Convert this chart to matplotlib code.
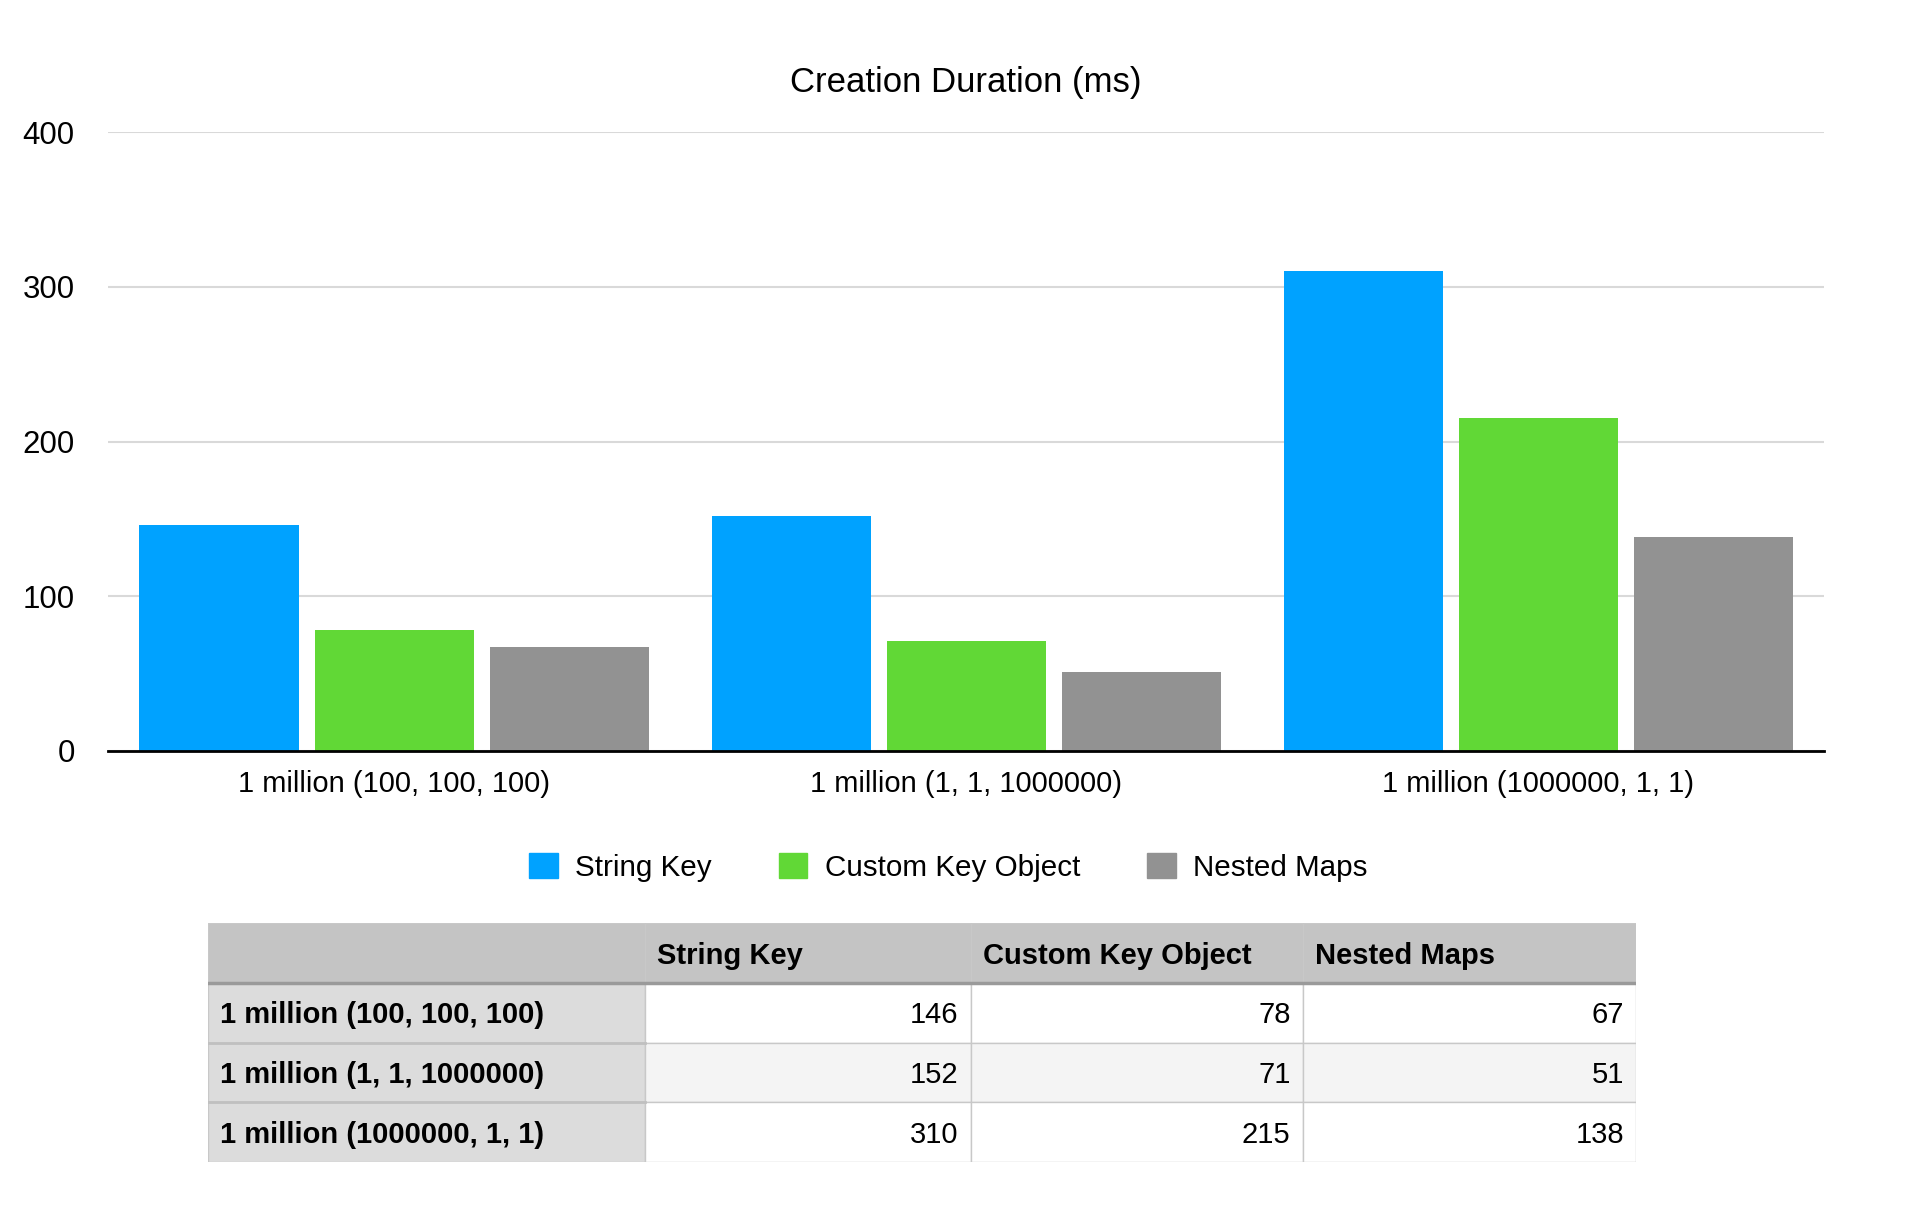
import numpy as np
import matplotlib
matplotlib.use("Agg")
import matplotlib.pyplot as plt
from matplotlib.patches import Rectangle, Patch

plt.rcParams['font.family'] = ['Liberation Sans', 'DejaVu Sans']

categories = ["1 million (100, 100, 100)", "1 million (1, 1, 1000000)", "1 million (1000000, 1, 1)"]
series = ["String Key", "Custom Key Object", "Nested Maps"]
string_key = [146, 152, 310]
custom_key = [78, 71, 215]
nested_maps = [67, 51, 138]
colors = ["#00A2FF", "#61D836", "#929292"]
yticks = [0, 100, 200, 300, 400]

values = [string_key, custom_key, nested_maps]

fig = plt.figure(figsize=(19.2, 12.11), dpi=100)
ax = fig.add_axes([0.05625, 0.3799, 0.894, 0.511])

x = np.arange(len(categories))
bw = 0.278
step = 0.306
for i, (name, vals) in enumerate(zip(series, values)):
    ax.bar(x + (i - 1) * step, vals, width=bw, color=colors[i], label=name, zorder=2)

ax.set_xlim(-0.5, 2.5)
ax.set_ylim(0, 400)
ax.set_yticks(yticks)
ax.set_yticklabels([str(t) for t in yticks], fontsize=22.5)
ax.set_xticks(x)
ax.set_xticklabels(categories, fontsize=21)
ax.tick_params(axis='both', length=0)
ax.tick_params(axis='x', pad=13.5)
ax.tick_params(axis='y', pad=24)
ax.grid(axis='y', color='#D9D9D9', linewidth=1.5, zorder=0)
for s in ['top', 'right', 'left']:
    ax.spines[s].set_visible(False)
ax.spines['bottom'].set_linewidth(2)
ax.spines['bottom'].set_zorder(3)
ax.set_title("Creation Duration (ms)", fontsize=25, pad=29)

handles = [Patch(color=c, label=s) for c, s in zip(colors, series)]
fig.legend(handles=handles, loc='center', bbox_to_anchor=(0.494, 0.284), ncol=3,
           frameon=False, fontsize=21.3, handlelength=0.97, handleheight=0.95,
           columnspacing=2.25, handletextpad=0.6)

# table
tax = fig.add_axes([0.1083, 0.0405, 0.744, 0.197])
col_w = [437, 326, 332, 334]
edges = np.concatenate([[0], np.cumsum(col_w)])
nrows = len(categories) + 1
tax.set_xlim(0, edges[-1])
tax.set_ylim(nrows, 0)
tax.axis('off')

for r in range(nrows):
    for c in range(len(col_w)):
        if r == 0:
            fc = '#C4C4C4'
        elif c == 0:
            fc = '#DCDCDC'
        elif r == 2:
            fc = '#F4F4F4'
        else:
            fc = '#FFFFFF'
        tax.add_patch(Rectangle((edges[c], r), col_w[c], 1, facecolor=fc,
                                edgecolor='#C8C8C8', linewidth=1))

tax.plot([0, edges[-1]], [1, 1], color='#9A9A9A', linewidth=2.5)
tax.plot([0, edges[1]], [2, 2], color='#C0C0C0', linewidth=2)
tax.plot([0, edges[1]], [3, 3], color='#C0C0C0', linewidth=2)

for c, s in enumerate(series):
    tax.text(edges[c + 1] + 12, 0.54, s, fontsize=21, fontweight='bold',
             ha='left', va='center')
for r, cat in enumerate(categories):
    tax.text(12, r + 1.54, cat, fontsize=21, fontweight='bold', ha='left', va='center')
    for c, vals in enumerate(values):
        tax.text(edges[c + 2] - 12, r + 1.54, str(vals[r]), fontsize=21,
                 ha='right', va='center')

fig.savefig("out.png", dpi=100, facecolor='white')
